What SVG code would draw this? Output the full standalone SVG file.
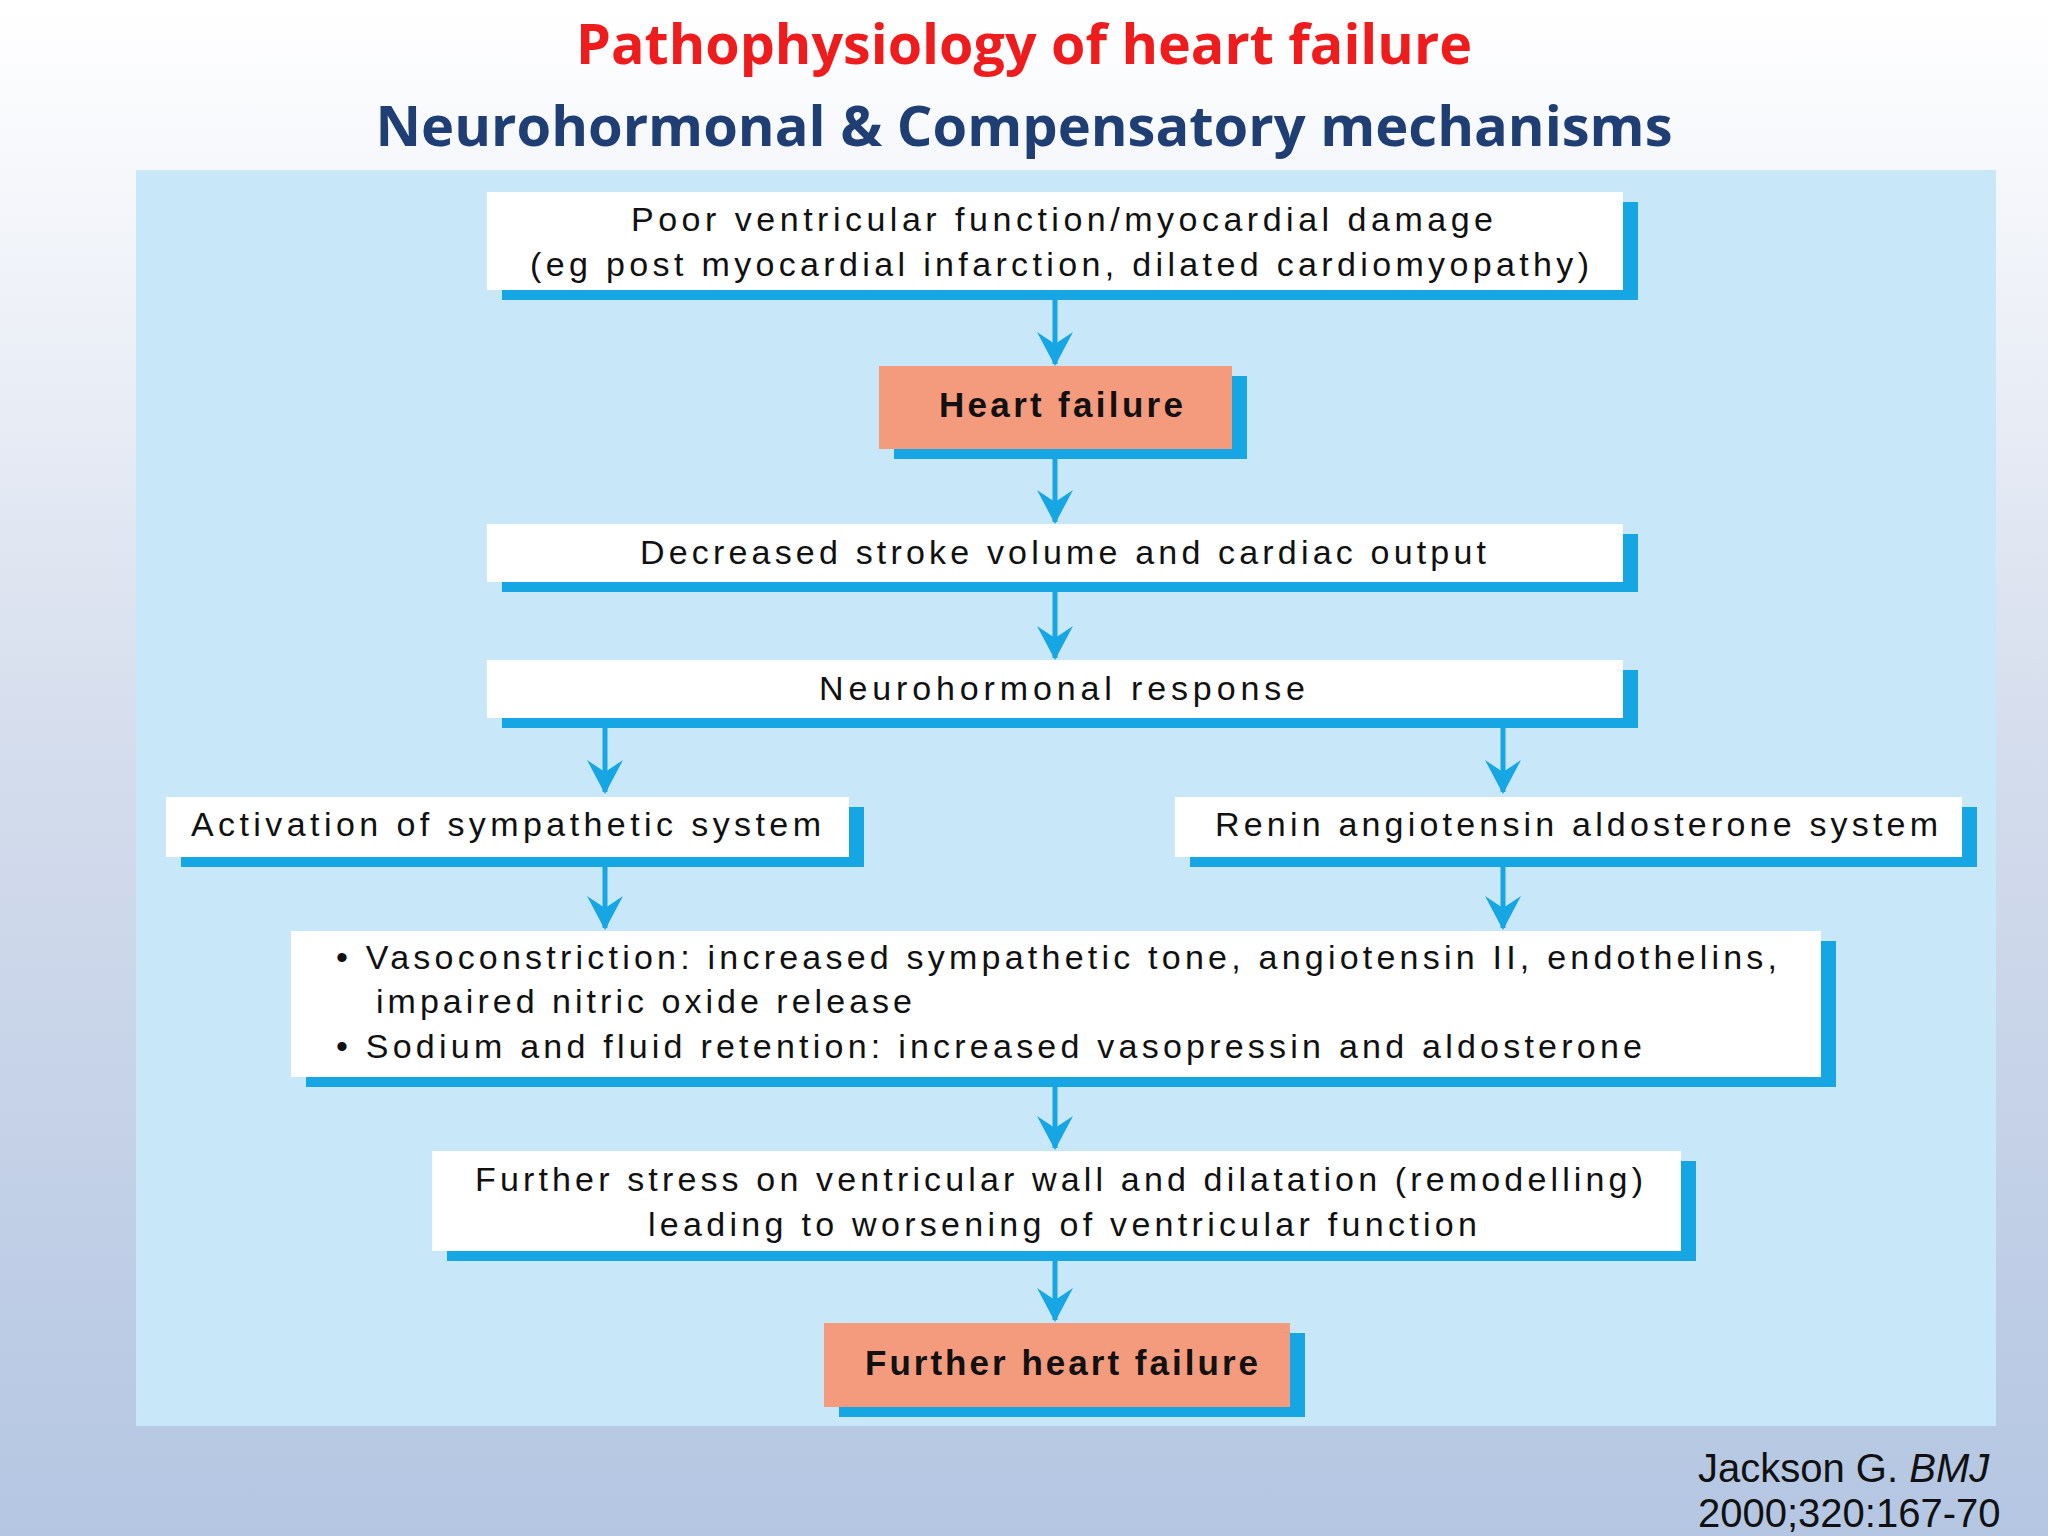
<svg xmlns="http://www.w3.org/2000/svg" width="2048" height="1536" viewBox="0 0 2048 1536">
<defs>
<linearGradient id="bg" x1="0" y1="0" x2="0" y2="1">
<stop offset="0" stop-color="#ffffff"/><stop offset="0.5" stop-color="#d3dcec"/><stop offset="1" stop-color="#b4c6e2"/>
</linearGradient>
<marker id="a" markerWidth="40" markerHeight="40" refX="32" refY="20" orient="auto" markerUnits="userSpaceOnUse" viewBox="0 0 40 40">
<path d="M0,2 L34,20 L0,38 L12,20 z" fill="#16a6e3"/>
</marker>
<style>
.sh{fill:#16a6e3}
.w{fill:#ffffff}
.s{fill:#f49a7d}
.t{font-family:"Liberation Sans",Arial,sans-serif;font-size:34px;fill:#111}
.b{font-family:"Liberation Sans",Arial,sans-serif;font-size:35px;font-weight:bold;fill:#111}
.c{stroke:#16a6e3;stroke-width:5;fill:none;marker-end:url(#a)}
</style>
</defs>
<rect width="2048" height="1536" fill="url(#bg)"/>
<text x="1024" y="64" text-anchor="middle" font-family="'Open Sans',sans-serif" font-weight="bold" font-size="56" fill="#ee1c1c" textLength="896" lengthAdjust="spacingAndGlyphs">Pathophysiology of heart failure</text>
<text x="1024" y="146" text-anchor="middle" font-family="'Open Sans',sans-serif" font-weight="bold" font-size="56" fill="#1f3e74" textLength="1297" lengthAdjust="spacingAndGlyphs">Neurohormonal &amp; Compensatory mechanisms</text>
<rect x="136" y="170" width="1860" height="1256" fill="#c8e8fa"/>
<g id="connectors">
<line class="c" x1="1055" y1="300" x2="1055" y2="364"/>
<line class="c" x1="1055" y1="459" x2="1055" y2="522"/>
<line class="c" x1="1055" y1="592" x2="1055" y2="658"/>
<line class="c" x1="605" y1="728" x2="605" y2="792"/>
<line class="c" x1="1503" y1="728" x2="1503" y2="792"/>
<line class="c" x1="605" y1="867" x2="605" y2="928"/>
<line class="c" x1="1503" y1="867" x2="1503" y2="928"/>
<line class="c" x1="1055" y1="1087" x2="1055" y2="1148"/>
<line class="c" x1="1055" y1="1261" x2="1055" y2="1320"/>
</g>
<g id="n1"><rect class="sh" x="502" y="202" width="1136" height="98"/><rect class="w" x="487" y="192" width="1136" height="98"/>
<text class="t" x="631" y="231" textLength="862" lengthAdjust="spacing">Poor ventricular function/myocardial damage</text>
<text class="t" x="530" y="276" textLength="1059" lengthAdjust="spacing">(eg post myocardial infarction, dilated cardiomyopathy)</text></g>
<g id="n2"><rect class="sh" x="894" y="376" width="353" height="83"/><rect class="s" x="879" y="366" width="353" height="83"/>
<text class="b" x="939" y="417" textLength="244" lengthAdjust="spacing">Heart failure</text></g>
<g id="n3"><rect class="sh" x="502" y="534" width="1136" height="58"/><rect class="w" x="487" y="524" width="1136" height="58"/>
<text class="t" x="640" y="564" textLength="846" lengthAdjust="spacing">Decreased stroke volume and cardiac output</text></g>
<g id="n4"><rect class="sh" x="502" y="670" width="1136" height="58"/><rect class="w" x="487" y="660" width="1136" height="58"/>
<text class="t" x="819" y="700" textLength="486" lengthAdjust="spacing">Neurohormonal response</text></g>
<g id="n5"><rect class="sh" x="181" y="807" width="683" height="60"/><rect class="w" x="166" y="797" width="683" height="60"/>
<text class="t" x="191" y="836" textLength="630" lengthAdjust="spacing">Activation of sympathetic system</text></g>
<g id="n6"><rect class="sh" x="1190" y="807" width="787" height="60"/><rect class="w" x="1175" y="797" width="787" height="60"/>
<text class="t" x="1215" y="836" textLength="723" lengthAdjust="spacing">Renin angiotensin aldosterone system</text></g>
<g id="n7"><rect class="sh" x="306" y="941" width="1530" height="146"/><rect class="w" x="291" y="931" width="1530" height="146"/>
<text class="t" x="336" y="969" textLength="1441" lengthAdjust="spacing">• Vasoconstriction: increased sympathetic tone, angiotensin II, endothelins,</text>
<text class="t" x="376" y="1013" textLength="536" lengthAdjust="spacing">impaired nitric oxide release</text>
<text class="t" x="336" y="1058" textLength="1306" lengthAdjust="spacing">• Sodium and fluid retention: increased vasopressin and aldosterone</text></g>
<g id="n8"><rect class="sh" x="447" y="1161" width="1249" height="100"/><rect class="w" x="432" y="1151" width="1249" height="100"/>
<text class="t" x="475" y="1191" textLength="1168" lengthAdjust="spacing">Further stress on ventricular wall and dilatation (remodelling)</text>
<text class="t" x="648" y="1236" textLength="829" lengthAdjust="spacing">leading to worsening of ventricular function</text></g>
<g id="n9"><rect class="sh" x="839" y="1333" width="466" height="84"/><rect class="s" x="824" y="1323" width="466" height="84"/>
<text class="b" x="865" y="1375" textLength="393" lengthAdjust="spacing">Further heart failure</text></g>
<text x="1698" y="1482" font-family="'Liberation Sans',Arial,sans-serif" font-size="40" fill="#111">Jackson G. <tspan font-style="italic">BMJ</tspan></text>
<text x="1698" y="1527" font-family="'Liberation Sans',Arial,sans-serif" font-size="40" fill="#111">2000;320:167-70</text>
</svg>
